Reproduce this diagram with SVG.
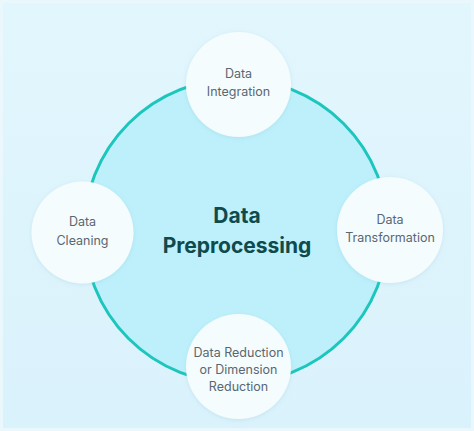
<svg xmlns="http://www.w3.org/2000/svg" width="474" height="431" viewBox="0 0 474 431">
<defs>
<linearGradient id="bg" x1="0" y1="0" x2="0" y2="1">
<stop offset="0" stop-color="#e2f6fd"/>
<stop offset="1" stop-color="#daf2fc"/>
</linearGradient>
<filter id="sh" x="-30%" y="-30%" width="160%" height="160%">
<feDropShadow dx="0" dy="1" stdDeviation="2" flood-color="#7fb8c8" flood-opacity="0.25"/>
</filter>
<style>
.node{fill:#f4fcfe;filter:url(#sh)}
.lbl{font-family:Inter,"Noto Sans","Liberation Sans",sans-serif;font-size:12.5px;fill:#5b6670;text-anchor:middle}
.title{font-family:Inter,"Noto Sans","Liberation Sans",sans-serif;font-size:21px;font-weight:700;fill:#0f4a4c;text-anchor:middle}
</style>
</defs>
<rect x="0" y="0" width="474" height="431" fill="#eaf8fd"/>
<rect x="3" y="3" width="468" height="425" fill="url(#bg)"/>
<g id="connectors">
<circle cx="236" cy="231" r="152" fill="#bdf0fb" stroke="#1cc6bd" stroke-width="3"/>
</g>
<g id="center">
<text class="title" x="237" y="223">Data</text>
<text class="title" x="237" y="253">Preprocessing</text>
</g>
<g id="node-integration">
<circle class="node" cx="238.5" cy="84.5" r="52.5"/>
<text class="lbl" x="238.5" y="77.5">Data</text>
<text class="lbl" x="238.5" y="95.5">Integration</text>
</g>
<g id="node-cleaning">
<circle class="node" cx="82.5" cy="232.5" r="51"/>
<text class="lbl" x="82.5" y="226">Data</text>
<text class="lbl" x="82.5" y="244.5">Cleaning</text>
</g>
<g id="node-transformation">
<circle class="node" cx="390" cy="230" r="53"/>
<text class="lbl" x="390" y="223.5">Data</text>
<text class="lbl" x="390" y="241.8">Transformation</text>
</g>
<g id="node-reduction">
<circle class="node" cx="238.5" cy="366.5" r="52.5"/>
<text class="lbl" x="238.5" y="357">Data Reduction</text>
<text class="lbl" x="238.5" y="374">or Dimension</text>
<text class="lbl" x="238.5" y="390.5">Reduction</text>
</g>
</svg>
